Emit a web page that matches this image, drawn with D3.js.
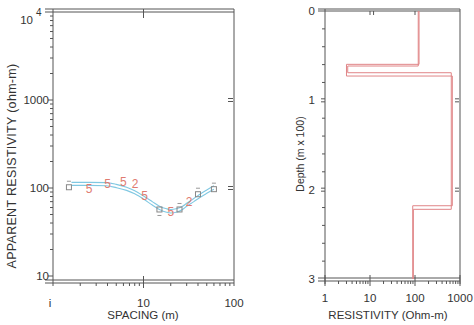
<!DOCTYPE html>
<html>
<head>
<meta charset="utf-8">
<script src="https://cdn.jsdelivr.net/npm/d3@7"></script>
<style>
  body { margin: 0; background: #fff; }
  svg text { font-family: "Liberation Sans", Arial, sans-serif; fill: #333; }
</style>
</head>
<body>
<div class="graph"></div>
<script>
// sounding data: electrode spacing (m) and apparent resistivity (ohm-m)
const spacing = [1.5, 2.5, 4.0, 6.0, 8.1, 10.3, 15, 20, 25, 32, 40, 60];
const apparentRho = [102, 98, 111, 116, 110, 82, 57, 54, 57, 69, 85, 97];
const symbols = ["sq", "5", "5", "5", "2", "5", "sq", "5", "sq", "2", "sq", "sq"];

// fitted curves (two equivalent models)
const fitSpacing = [1.6, 2.5, 3.9, 5.0, 6.5, 8.0, 10, 12.5, 15, 18, 20, 23, 27, 30, 36, 42, 50, 60];
const fitUpper = [116, 116, 115, 110, 102, 93, 81, 70, 62, 58, 57, 58, 62, 67, 76, 85, 95, 106];
const fitLower = [107, 107, 106, 101, 94, 86, 75, 64, 57, 53, 52, 53, 57, 62, 70, 78, 87, 97];

// layered models: resistivity per layer and bottom depth (x100 m) of each layer
const modelARho = [123, 3, 675, 89];
const modelADepth = [0.597, 0.728, 2.18];
const modelBRho = [118, 3.2, 640, 92];
const modelBDepth = [0.616, 0.691, 2.22];

const rhoTicks = [10, 100, 1000, 10000];
const spacingTicks = [1, 10, 100];
const spacingLabels = ["i", "10", "100"];
const resTicks = [1, 10, 100, 1000];
const depthTicks = [0, 1, 2, 3];

const width = 474, height = 325;
const axisColor = "#555";

const svg = d3.select(".graph").append("svg")
  .attr("width", width)
  .attr("height", height);

// ---------- left panel: sounding curve ----------
const x = d3.scaleLog().domain([1, 100]).range([53, 234]);
const y = d3.scaleLog().domain([10, 10000]).range([276, 12]);
const yBottom = 282;

const left = svg.append("g");

// frame
left.append("line").attr("x1", 45).attr("x2", 234).attr("y1", 9).attr("y2", 9);
left.append("line").attr("x1", 45).attr("x2", 234).attr("y1", 12).attr("y2", 12);
left.append("line").attr("x1", 45).attr("x2", 234).attr("y1", yBottom - 2).attr("y2", yBottom - 2);
left.append("line").attr("x1", 45).attr("x2", 234).attr("y1", yBottom + 1).attr("y2", yBottom + 1);
left.append("line").attr("x1", x(1)).attr("x2", x(1)).attr("y1", 9).attr("y2", yBottom + 4);
left.append("line").attr("x1", x(100)).attr("x2", x(100)).attr("y1", 9).attr("y2", yBottom + 4);
left.selectAll("line").attr("stroke", axisColor).attr("stroke-width", 1);

// minor ticks on log axes
function logMinors(lo, hi) {
  let out = [];
  for (let d = lo; d < hi; d *= 10) {
    for (let k = 2; k <= 9; k++) out.push(d * k);
  }
  return out;
}

left.append("g").selectAll("line")
  .data(logMinors(10, 10000))
  .join("line")
  .attr("x1", x(1) - 3).attr("x2", x(1))
  .attr("y1", d => y(d)).attr("y2", d => y(d))
  .attr("stroke", axisColor);

left.append("g").selectAll("line")
  .data(rhoTicks.slice(0, 3))
  .join("line")
  .attr("x1", x(1) - 5).attr("x2", x(1))
  .attr("y1", d => y(d)).attr("y2", d => y(d))
  .attr("stroke", axisColor);

// '=' marks on right edge
[1000, 100].forEach(v => {
  [-1.5, 1.5].forEach(o => {
    left.append("line")
      .attr("x1", x(100) - 6).attr("x2", x(100) - 1)
      .attr("y1", y(v) + o).attr("y2", y(v) + o)
      .attr("stroke", axisColor);
  });
});

left.append("g").selectAll("line")
  .data(logMinors(1, 100))
  .join("line")
  .attr("x1", d => x(d)).attr("x2", d => x(d))
  .attr("y1", yBottom + 1).attr("y2", yBottom + 4)
  .attr("stroke", axisColor);
left.append("line")
  .attr("x1", x(10)).attr("x2", x(10))
  .attr("y1", 9).attr("y2", 18)
  .attr("stroke", axisColor);
left.append("line")
  .attr("x1", x(10)).attr("x2", x(10))
  .attr("y1", yBottom - 6).attr("y2", yBottom + 6)
  .attr("stroke", axisColor);

// tick labels
left.selectAll("text.ylab")
  .data([10, 100, 1000])
  .join("text")
  .attr("class", "ylab")
  .attr("x", 49)
  .attr("y", d => y(d) + 4)
  .attr("text-anchor", "end")
  .attr("font-size", 11.5)
  .text(d => d);
left.append("text").attr("x", 33).attr("y", 24).attr("text-anchor", "end")
  .attr("font-size", 11.5).text("10");
left.append("text").attr("x", 36).attr("y", 16)
  .attr("font-size", 10).text("4");

left.selectAll("text.xlab")
  .data(spacingTicks)
  .join("text")
  .attr("class", "xlab")
  .attr("x", (d, i) => x(d) - (i === 0 ? 3 : 0))
  .attr("y", 307)
  .attr("text-anchor", "middle")
  .attr("font-size", 11.5)
  .text((d, i) => spacingLabels[i]);

left.append("text")
  .attr("x", 143).attr("y", 319)
  .attr("text-anchor", "middle")
  .attr("font-size", 11.5)
  .text("SPACING (m)");
left.append("text")
  .attr("transform", "translate(16,166) rotate(-90)")
  .attr("text-anchor", "middle")
  .attr("font-size", 12.5)
  .attr("letter-spacing", 0.3)
  .text("APPARENT RESISTIVITY (ohm-m)");

// fitted curves
const fitLine = d3.line().curve(d3.curveMonotoneX);
[fitUpper, fitLower].forEach(vals => {
  left.append("path")
    .attr("d", fitLine(fitSpacing.map((s, i) => [x(s), y(vals[i])])))
    .attr("fill", "none")
    .attr("stroke", "#80c8e2")
    .attr("stroke-width", 1.1);
});

// observed points
const pts = left.append("g");
spacing.forEach((s, i) => {
  const px = x(s), py = y(apparentRho[i]);
  if (symbols[i] === "sq") {
    pts.append("rect")
      .attr("x", px - 2.5).attr("y", py - 2.5)
      .attr("width", 5).attr("height", 5)
      .attr("fill", "none")
      .attr("stroke", "#888");
    const off = (i === 6) ? 6 : -6;
    pts.append("line")
      .attr("x1", px - 2).attr("x2", px + 2)
      .attr("y1", py + off).attr("y2", py + off)
      .attr("stroke", "#999");
  } else {
    pts.append("text")
      .attr("x", px).attr("y", py + 4)
      .attr("text-anchor", "middle")
      .attr("font-size", 12)
      .style("fill", "#e07b70")
      .text(symbols[i]);
  }
});

// ---------- right panel: layered model ----------
const xr = d3.scaleLog().domain([1, 1000]).range([325, 460]);
const yr = d3.scaleLinear().domain([0, 3]).range([11, 279]);

const right = svg.append("g");
right.append("line").attr("x1", 318).attr("x2", 460).attr("y1", 9).attr("y2", 9);
right.append("line").attr("x1", 318).attr("x2", 460).attr("y1", 11).attr("y2", 11);
right.append("line").attr("x1", 318).attr("x2", 460).attr("y1", 278).attr("y2", 278);
right.append("line").attr("x1", 318).attr("x2", 460).attr("y1", 281).attr("y2", 281);
right.append("line").attr("x1", xr(1)).attr("x2", xr(1)).attr("y1", 9).attr("y2", 284);
right.append("line").attr("x1", xr(1000)).attr("x2", xr(1000)).attr("y1", 9).attr("y2", 284);
right.selectAll("line").attr("stroke", axisColor);

right.append("g").selectAll("line")
  .data(logMinors(1, 1000))
  .join("line")
  .attr("x1", d => xr(d)).attr("x2", d => xr(d))
  .attr("y1", 281).attr("y2", 284)
  .attr("stroke", axisColor);
right.append("g").selectAll("line")
  .data(resTicks)
  .join("line")
  .attr("x1", d => xr(d)).attr("x2", d => xr(d))
  .attr("y1", 275).attr("y2", 286)
  .attr("stroke", axisColor);
[10, 12, 100].forEach(v => {
  right.append("line")
    .attr("x1", xr(v)).attr("x2", xr(v))
    .attr("y1", 11).attr("y2", 15)
    .attr("stroke", axisColor);
});

right.append("g").selectAll("line")
  .data(d3.range(0.2, 3, 0.2).filter(d => Math.abs(d - Math.round(d)) > 0.05))
  .join("line")
  .attr("x1", xr(1) - 3).attr("x2", xr(1))
  .attr("y1", d => yr(d)).attr("y2", d => yr(d))
  .attr("stroke", axisColor);
[1, 2].forEach(v => {
  [-1.5, 1.5].forEach(o => {
    right.append("line")
      .attr("x1", xr(1) - 4).attr("x2", xr(1))
      .attr("y1", yr(v) + o).attr("y2", yr(v) + o)
      .attr("stroke", axisColor);
    right.append("line")
      .attr("x1", xr(1000) - 5).attr("x2", xr(1000) - 1)
      .attr("y1", yr(v) + o).attr("y2", yr(v) + o)
      .attr("stroke", axisColor);
  });
});

right.selectAll("text.dlab")
  .data(depthTicks)
  .join("text")
  .attr("class", "dlab")
  .attr("x", 315)
  .attr("y", d => yr(d) + 4)
  .attr("text-anchor", "end")
  .attr("font-size", 11.5)
  .text(d => d);
right.selectAll("text.rlab")
  .data(resTicks)
  .join("text")
  .attr("class", "rlab")
  .attr("x", d => xr(d))
  .attr("y", 302)
  .attr("text-anchor", "middle")
  .attr("font-size", 11.5)
  .text(d => d);
right.append("text")
  .attr("x", 388).attr("y", 319)
  .attr("text-anchor", "middle")
  .attr("font-size", 11.5)
  .text("RESISTIVITY (Ohm-m)");
right.append("text")
  .attr("transform", "translate(304,154) rotate(-90)")
  .attr("text-anchor", "middle")
  .attr("font-size", 10.5)
  .text("Depth (m  x  100)");

// step profiles of the two models
function modelPath(rho, depth) {
  const pts = [];
  let top = 0;
  rho.forEach((r, i) => {
    const bottom = i < depth.length ? depth[i] : 3;
    pts.push([xr(r), yr(top)], [xr(r), yr(bottom)]);
    top = bottom;
  });
  return d3.line()(pts);
}
[[modelARho, modelADepth], [modelBRho, modelBDepth]].forEach(m => {
  right.append("path")
    .attr("d", modelPath(m[0], m[1]))
    .attr("fill", "none")
    .attr("stroke", "#e08587")
    .attr("stroke-width", 1);
});
</script>
</body>
</html>
